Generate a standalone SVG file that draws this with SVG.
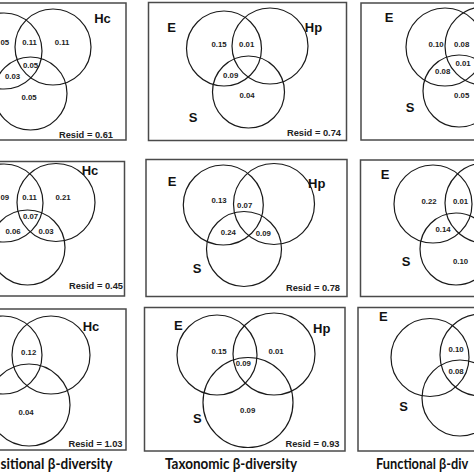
<svg xmlns="http://www.w3.org/2000/svg" width="474" height="474" viewBox="0 0 474 474">
<style>
.bg{fill:#fff}
.frame{fill:none;stroke:#4a4a4a;stroke-width:1.5}
.c{fill:none;stroke:#1a1a1a;stroke-width:1.2}
.n{font-family:"Liberation Sans",Arial,sans-serif;font-weight:bold;font-size:7.8px;fill:#222;text-anchor:middle}
.ns{font-family:"Liberation Sans",Arial,sans-serif;font-weight:bold;font-size:7.8px;fill:#222;text-anchor:start}
.lab{font-family:"Liberation Sans",Arial,sans-serif;font-weight:bold;font-size:13px;fill:#111;text-anchor:middle}
.res{font-family:"Liberation Sans",Arial,sans-serif;font-weight:bold;font-size:9.3px;fill:#222;text-anchor:end}
.title{font-family:Lato,"Liberation Sans",sans-serif;font-weight:bold;font-size:15px;fill:#111}
</style>
<rect class="bg" x="0" y="0" width="474" height="474"/>

<g id="panel-comp-1">
<rect class="frame" x="-80" y="3" width="206" height="137"/>
<circle class="c" cx="4" cy="51" r="38"/>
<circle class="c" cx="53" cy="47" r="38"/>
<circle class="c" cx="30.5" cy="93.5" r="36.5"/>
<text class="lab" x="102.5" y="23">Hc</text>
<text class="ns" x="0.5" y="45.4">05</text>
<text class="n" x="29.5" y="45.4">0.11</text>
<text class="n" x="62" y="45.4">0.11</text>
<text class="n" x="30.5" y="68">0.05</text>
<text class="n" x="12.5" y="78.7">0.03</text>
<text class="n" x="29" y="100.4">0.05</text>
<text class="res" x="113" y="137.5">Resid = 0.61</text>
</g>

<g id="panel-tax-1">
<rect class="frame" x="148.5" y="2.5" width="198" height="138"/>
<circle class="c" cx="224" cy="48.5" r="37.5"/>
<circle class="c" cx="270" cy="46" r="38"/>
<circle class="c" cx="248.5" cy="92" r="36"/>
<text class="lab" x="171.7" y="31.7">E</text>
<text class="lab" x="313.5" y="31.7">Hp</text>
<text class="lab" x="193" y="121.7">S</text>
<text class="n" x="219" y="46.7">0.15</text>
<text class="n" x="246.7" y="46.7">0.01</text>
<text class="n" x="230.7" y="77.7">0.09</text>
<text class="n" x="247" y="97.7">0.04</text>
<text class="res" x="341" y="135.5">Resid = 0.74</text>
</g>

<g id="panel-fun-1">
<rect class="frame" x="361" y="3" width="200" height="137"/>
<circle class="c" cx="445" cy="47" r="39"/>
<circle class="c" cx="484" cy="46" r="39"/>
<circle class="c" cx="459" cy="91" r="36"/>
<text class="lab" x="389" y="21.7">E</text>
<text class="lab" x="410" y="111.7">S</text>
<text class="n" x="436" y="47.4">0.10</text>
<text class="n" x="461.7" y="46.7">0.08</text>
<text class="n" x="463" y="66">0.01</text>
<text class="n" x="442.7" y="74.4">0.08</text>
<text class="n" x="461.7" y="97.7">0.05</text>
</g>

<g id="panel-comp-2">
<rect class="frame" x="-80" y="161.5" width="204.5" height="134.5"/>
<circle class="c" cx="4" cy="203" r="39"/>
<circle class="c" cx="56" cy="202.5" r="39"/>
<circle class="c" cx="27.5" cy="247.5" r="37.5"/>
<text class="lab" x="90" y="175.4">Hc</text>
<text class="ns" x="0.5" y="200.4">09</text>
<text class="n" x="29.5" y="200.4">0.11</text>
<text class="n" x="63" y="200.4">0.21</text>
<text class="n" x="30.5" y="219.4">0.07</text>
<text class="n" x="13" y="234.4">0.06</text>
<text class="n" x="46" y="234.4">0.03</text>
<text class="res" x="123" y="289.4">Resid = 0.45</text>
</g>

<g id="panel-tax-2">
<rect class="frame" x="146" y="159.5" width="201" height="137"/>
<circle class="c" cx="223.3" cy="205" r="40"/>
<circle class="c" cx="274" cy="204" r="40.5"/>
<circle class="c" cx="244" cy="249" r="37.5"/>
<text class="lab" x="172" y="186.4">E</text>
<text class="lab" x="316.7" y="188">Hp</text>
<text class="lab" x="197" y="273">S</text>
<text class="n" x="219" y="202.7">0.13</text>
<text class="n" x="244.7" y="208.4">0.07</text>
<text class="n" x="228.3" y="235.4">0.24</text>
<text class="n" x="263.3" y="236">0.09</text>
<text class="res" x="340" y="290.5">Resid = 0.78</text>
</g>

<g id="panel-fun-2">
<rect class="frame" x="360.5" y="160" width="200" height="136.5"/>
<circle class="c" cx="433" cy="204" r="39"/>
<circle class="c" cx="485" cy="203" r="40"/>
<circle class="c" cx="456" cy="249" r="36"/>
<text class="lab" x="385" y="178.7">E</text>
<text class="lab" x="406" y="266.4">S</text>
<text class="n" x="429" y="204.4">0.22</text>
<text class="n" x="460.5" y="204.4">0.01</text>
<text class="n" x="443" y="231.7">0.14</text>
<text class="n" x="460.5" y="264.4">0.10</text>
</g>

<g id="panel-comp-3">
<rect class="frame" x="-80" y="309" width="206" height="141"/>
<circle class="c" cx="3" cy="355" r="39"/>
<circle class="c" cx="51" cy="355" r="39"/>
<circle class="c" cx="29" cy="405" r="41"/>
<text class="lab" x="91" y="331.4">Hc</text>
<text class="n" x="28.7" y="355.4">0.12</text>
<text class="n" x="26" y="415">0.04</text>
<text class="res" x="122.5" y="447.4">Resid = 1.03</text>
</g>

<g id="panel-tax-3">
<rect class="frame" x="144.5" y="307.5" width="200.5" height="143.5"/>
<circle class="c" cx="217" cy="355" r="40"/>
<circle class="c" cx="274" cy="354" r="41"/>
<circle class="c" cx="248" cy="402.5" r="45"/>
<text class="lab" x="178.3" y="329.7">E</text>
<text class="lab" x="321.7" y="333">Hp</text>
<text class="lab" x="197.3" y="423">S</text>
<text class="n" x="219" y="354.4">0.15</text>
<text class="n" x="276" y="354.4">0.01</text>
<text class="n" x="243.3" y="366">0.09</text>
<text class="n" x="247.7" y="412.7">0.09</text>
<text class="res" x="339.5" y="447.4">Resid = 0.93</text>
</g>

<g id="panel-fun-3">
<rect class="frame" x="358" y="307.5" width="200" height="143.5"/>
<circle class="c" cx="430" cy="357.5" r="39"/>
<circle class="c" cx="481" cy="355" r="41"/>
<circle class="c" cx="460" cy="398" r="38"/>
<text class="lab" x="383.3" y="321.4">E</text>
<text class="lab" x="403.7" y="411.4">S</text>
<text class="n" x="456" y="352">0.10</text>
<text class="n" x="456" y="374.4">0.08</text>
</g>

<g id="titles">
<text class="title" x="0.5" y="469" textLength="112" lengthAdjust="spacingAndGlyphs">sitional β-diversity</text>
<text class="title" x="165" y="469" textLength="132" lengthAdjust="spacingAndGlyphs">Taxonomic β-diversity</text>
<text class="title" transform="translate(376 469) scale(1 1.15)" x="0" y="0" style="font-size:12.8px">Functional β-div</text>
</g>
</svg>
